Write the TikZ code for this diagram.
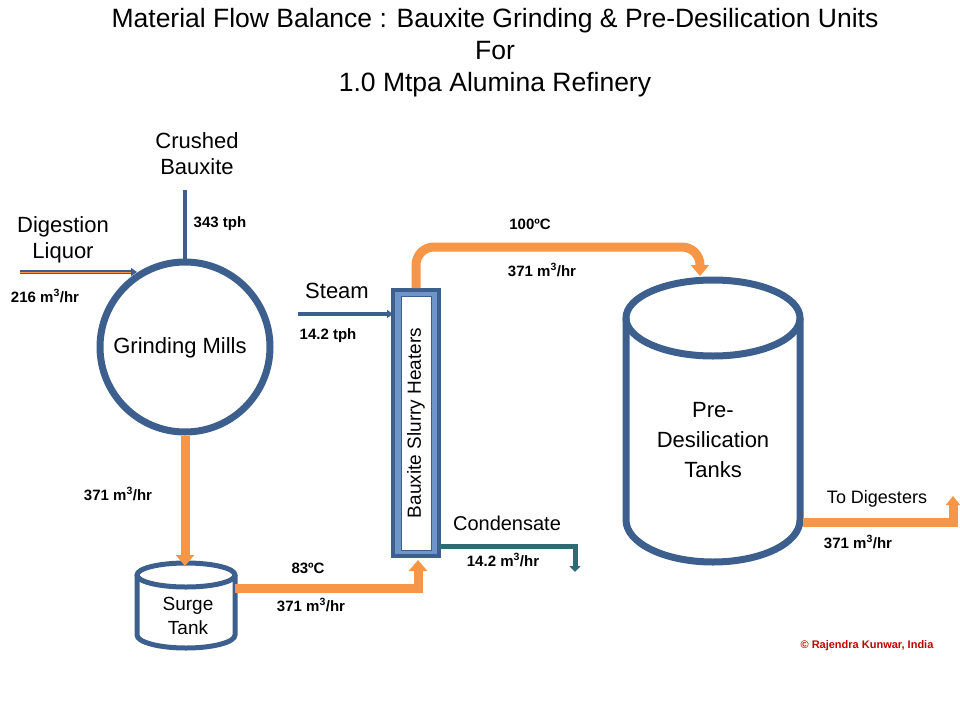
\documentclass[tikz,border=0pt]{standalone}
\usepackage{fontspec}
\setmainfont{Liberation Sans}
\usetikzlibrary{arrows.meta,calc}
\definecolor{pipeblue}{HTML}{3C5F8E}
\definecolor{pipeor}{HTML}{F79646}
\definecolor{teal2}{HTML}{2E6B72}
\definecolor{inner}{HTML}{6F95C8}
\definecolor{cred}{HTML}{C00000}
\begin{document}
\begin{tikzpicture}[x=1pt,y=-1pt,
 big/.style={font=\fontsize{22}{26}\selectfont,align=center},
 lab/.style={font=\fontsize{15}{17}\selectfont\bfseries},
 bluepipe/.style={draw=pipeblue,line width=4pt},
 orpipe/.style={draw=pipeor,line width=9pt,-{Triangle[length=11pt,width=18pt]}},
 vessel/.style={draw=pipeblue,line width=7pt}]
\useasboundingbox (0,0) rectangle (960,720);
\node[font=\fontsize{26.5}{32}\selectfont,align=center] (title) at (495,53) {Material Flow Balance : Bauxite Grinding \& Pre-Desilication Units\\For\\1.0 Mtpa Alumina Refinery};
% grinding mills
\node[circle,vessel,minimum size=170pt] (mill) at (185,347) {};
\node[big] (millt) at (180,348) {Grinding Mills};
\node[big] (cb) at (197,154) {Crushed\\Bauxite};
\coordinate (cbtop) at (185,190);
\draw[bluepipe] (cbtop) -- (mill.north);
\node[lab] (t343) at (220,224) {343 tph};
\node[big] (dl) at (63,240) {Digestion\\Liquor};
\coordinate (dls) at (20,272);
\coordinate (dle) at (137,272);
\coordinate (dlm) at (131,272);
\draw[bluepipe,-{Triangle[length=6pt,width=8pt]}] (dls) -- (dle);
\draw[draw=pipeor,line width=1pt] (dls) -- (dlm);
\node[lab] (t216) at (45,296) {216 m\textsuperscript{3}/hr};
% surge tank
\draw[vessel,line width=5pt] (137,575) -- (137,635) arc[start angle=180,end angle=0,x radius=49,y radius=13] -- (235,575);
\draw[vessel,line width=5pt] (186,575) ellipse[x radius=49,y radius=12];
\node[align=center,font=\fontsize{19}{24}\selectfont] (stt) at (188,616) {Surge\\Tank};
\coordinate (stin) at (185,566);
\draw[orpipe] (mill.south) -- (stin);
\node[lab] (t371a) at (118,494) {371 m\textsuperscript{3}/hr};
% heater
\node[draw=pipeblue,line width=4pt,fill=inner,minimum width=46pt,minimum height=266pt,inner sep=0] (heat) at (416,423) {};
\node[draw=pipeblue,line width=1pt,fill=white,minimum width=30pt,minimum height=254pt,inner sep=0] (heati) at (416,423) {};
\node[rotate=90,font=\fontsize{19}{22}\selectfont] (heatt) at (416,423) {Bauxite Slurry Heaters};
\coordinate (sto) at (235,588);
\coordinate (stc) at (418,588);
\coordinate (hin) at (418,560);
\draw[orpipe] (sto) -- (stc) -- (hin);
\node[lab] (t83) at (308,568) {83ºC};
\node[lab] (t371b) at (311,605) {371 m\textsuperscript{3}/hr};
\coordinate (stm) at (298,314);
\coordinate (stme) at (393,314);
\draw[bluepipe,-{Triangle[length=6pt,width=8pt]}] (stm) -- (stme);
\node[big] (steam) at (337,291) {Steam};
\node[lab] (t142) at (328,336) {14.2 tph};
% condensate
\coordinate (cds) at (440,546);
\coordinate (cdc) at (575,546);
\coordinate (cd) at (575,572);
\draw[draw=teal2,line width=5pt,-{Triangle[length=6pt,width=11pt]}] (cds) -- (cdc) -- (cd);
\node[big,font=\fontsize{20}{24}\selectfont] (cond) at (507,523) {Condensate};
\node[lab] (t142b) at (503,560) {14.2 m\textsuperscript{3}/hr};
% pre-desil tank
\draw[vessel] (626,318) -- (626,520) arc[start angle=180,end angle=0,x radius=87,y radius=42] -- (800,318);
\draw[vessel] (713,318) ellipse[x radius=87,y radius=38];
\node[align=center,font=\fontsize{22}{30}\selectfont] (pdt) at (713,440) {Pre-\\Desilication\\Tanks};
\coordinate (pdin) at (700,276);
\draw[orpipe,rounded corners=18pt] (heat.north) -- (416,247) -- (700,247) -- (pdin);
\node[lab] (t100) at (530,224) {100ºC};
\node[lab] (t371c) at (542,270) {371 m\textsuperscript{3}/hr};
\coordinate (dg) at (953,496);
\draw[orpipe,-{Triangle[length=9pt,width=14pt]}] (803,522) -- (953,522) -- (dg);
\node[font=\fontsize{18}{20}\selectfont] (todg) at (877,499) {To Digesters};
\node[lab] (t371d) at (858,542) {371 m\textsuperscript{3}/hr};
\node[font=\fontsize{11}{13}\selectfont\bfseries,text=cred] (copy) at (867,646) {© Rajendra Kunwar, India};
\end{tikzpicture}
\end{document}
